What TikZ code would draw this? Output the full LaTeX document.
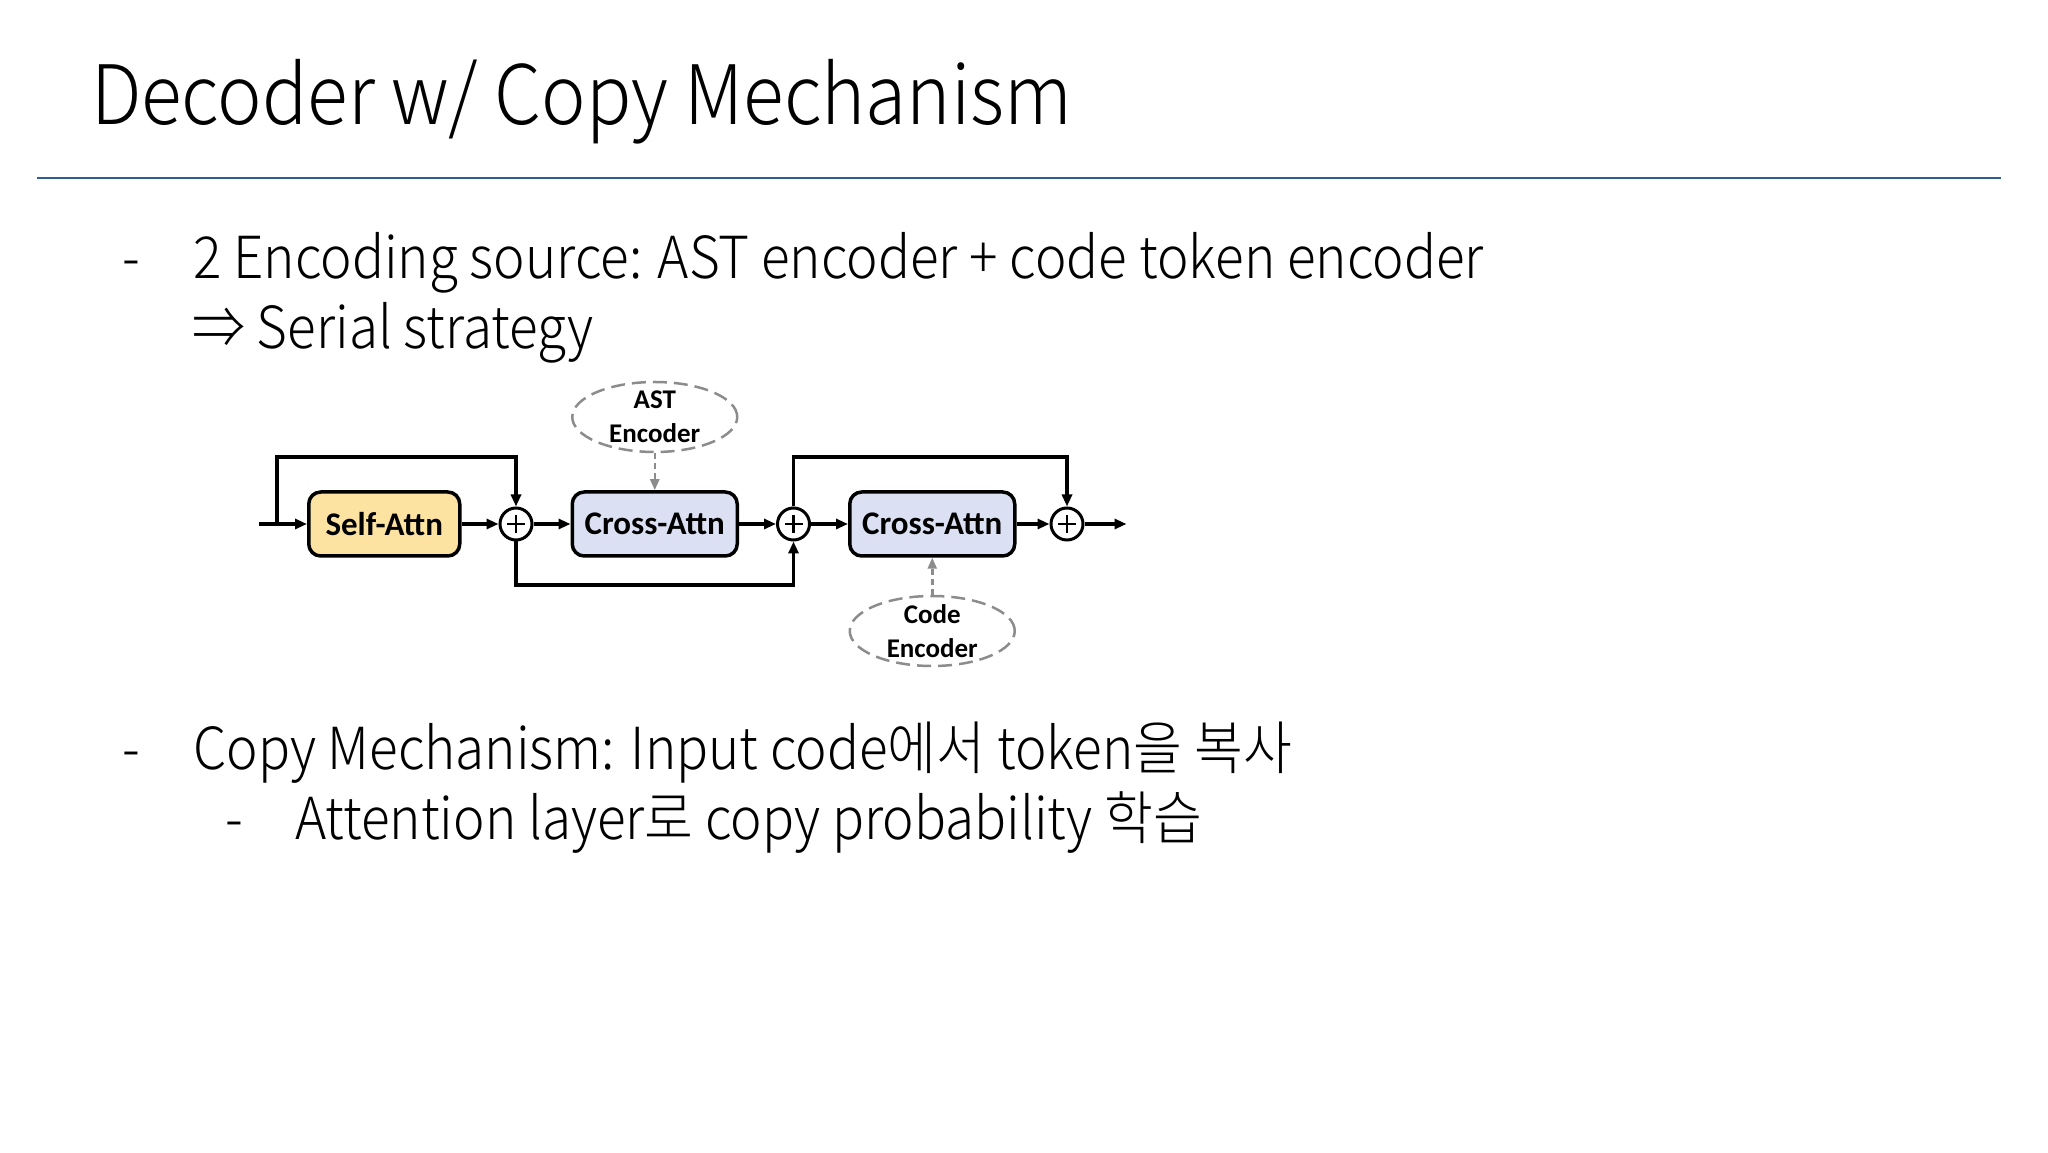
\documentclass[tikz,border=0pt]{standalone}
\usepackage{fontspec}
\setmainfont[FakeStretch=0.915, UprightFont={* Light}]{Noto Sans CJK KR}
\newfontfamily\diagfont{Carlito}
\usetikzlibrary{positioning,shapes.geometric,arrows.meta}
\definecolor{rulecol}{HTML}{2F5D95}
\definecolor{selfcol}{HTML}{FCE3A2}
\definecolor{crosscol}{HTML}{DBE1F2}
\definecolor{enccol}{HTML}{8C8C8C}
\tikzset{
  block/.style={draw, line width=3.5pt, rounded corners=12pt, minimum height=64pt,
    inner sep=0pt, font=\diagfont\bfseries\fontsize{33}{36}\selectfont},
  sum/.style={draw, circle, line width=3pt, minimum size=32pt, inner sep=0pt,
    path picture={\draw[line width=2.5pt]
      ([xshift=-9pt]path picture bounding box.center) -- ([xshift=9pt]path picture bounding box.center)
      ([yshift=-9pt]path picture bounding box.center) -- ([yshift=9pt]path picture bounding box.center);}},
  enc/.style={draw=enccol, dash pattern=on 14pt off 7pt, line width=2.5pt, ellipse,
    minimum width=165pt, minimum height=70pt, inner sep=0pt},
  enctext/.style={align=center, inner sep=0pt, yshift=0pt,
    font=\diagfont\bfseries\fontsize{27}{34}\selectfont},
  flow/.style={line width=3.5pt, -{Triangle[length=12pt,width=10pt]}},
  feed/.style={enccol, line width=2.5pt, dash pattern=on 6pt off 4pt,
    -{Triangle[length=11pt,width=9pt]}},
  slide/.style={anchor=base west, inner sep=0pt, font=\fontsize{58}{70}\selectfont},
}
\begin{document}
\begin{tikzpicture}[x=1pt, y=1pt, node distance=37pt]
  \useasboundingbox (0,0) rectangle (2048,1152);
  \node (title) [slide, font=\fontsize{82}{90}\selectfont] at (91,1027) {Decoder w/ Copy Mechanism};
  \draw[rulecol, line width=2.5pt] (37,974) -- (2001,974);

  \node (dash1) [slide] at (122,873) {-};
  \node (item1) [slide] at (193,873) {2 Encoding source: AST encoder + code token encoder};
  \node (item1b) [slide] at (192,803) {⇒ Serial strategy};
  \node (dash2) [slide] at (122,382) {-};
  \node (item2) [slide] at (193,382) {Copy Mechanism: Input code에서 token을 복사};
  \node (dash3) [slide] at (225,312) {-};
  \node (item3) [slide] at (295,312) {Attention layer로 copy probability 학습};

  \coordinate (in) at (259,628);
  \coordinate [right=18pt of in] (split);
  \node (self) [block, fill=selfcol, minimum width=151pt, right=48pt of in] {Self-Attn};
  \node (p1) [sum, right=of self] {};
  \node (cross1) [block, fill=crosscol, minimum width=165pt, right=of p1] {Cross-Attn};
  \node (p2) [sum, right=of cross1] {};
  \node (cross2) [block, fill=crosscol, minimum width=165pt, right=of p2] {Cross-Attn};
  \node (p3) [sum, right=33pt of cross2] {};
  \coordinate [right=42pt of p3] (out);
  \node (ast) [enc, above=of cross1, label={[enctext]center:AST\\Encoder}] {};
  \node (code) [enc, below=of cross2, label={[enctext]center:Code\\Encoder}] {};

  \draw[flow] (in) -- (self);
  \draw[flow] (self) -- (p1);
  \draw[flow] (p1) -- (cross1);
  \draw[flow] (cross1) -- (p2);
  \draw[flow] (p2) -- (cross2);
  \draw[flow] (cross2) -- (p3);
  \draw[flow] (p3) -- (out);
  \draw[flow] (split) -- ++(0,67) -| (p1);
  \draw[flow] (p1) -- ++(0,-61) -| (p2);
  \draw[flow] (p2) -- ++(0,67) -| (p3);
  \draw[feed] (ast) -- (cross1);
  \draw[feed] (code) -- (cross2);
\end{tikzpicture}
\end{document}
